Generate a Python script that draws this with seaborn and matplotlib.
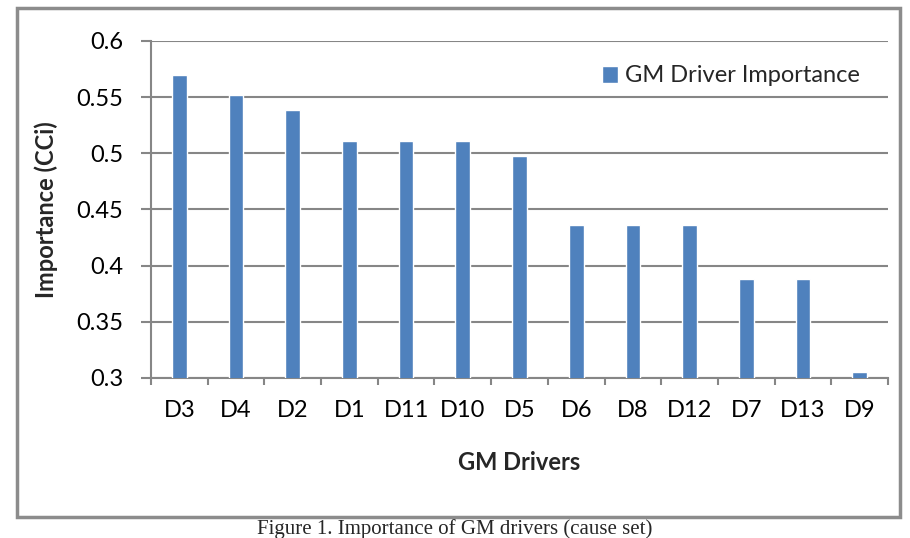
import matplotlib
matplotlib.use("Agg")
import matplotlib.pyplot as plt
import seaborn as sns
import pandas as pd
import numpy as np
from matplotlib.patches import Rectangle

drivers = ["D3", "D4", "D2", "D1", "D11", "D10", "D5", "D6", "D8", "D12", "D7", "D13", "D9"]
importance = [0.570, 0.552, 0.539, 0.511, 0.511, 0.511, 0.498, 0.436, 0.436, 0.436, 0.388, 0.388, 0.305]
yticks = [0.3, 0.35, 0.4, 0.45, 0.5, 0.55, 0.6]
ytick_labels = ["0.3", "0.35", "0.4", "0.45", "0.5", "0.55", "0.6"]

sns.set_theme(style="white")
plt.rcParams["font.family"] = ["Lato", "DejaVu Sans"]

df = pd.DataFrame({"Driver": drivers, "Importance": importance})

W, H = 910, 538
fig = plt.figure(figsize=(W / 100, H / 100), dpi=100)
ax = fig.add_axes([151 / W, 1 - 378 / H, (888 - 151) / W, (378 - 41) / H])

grid_c = "#868686"
bar_c = "#4F81BD"

sns.barplot(data=df, x="Driver", y="Importance", color=bar_c, width=0.26,
            saturation=1, ax=ax, label="GM Driver Importance", zorder=3)

ax.set_ylim(0.3, 0.6)
ax.set_xlim(-0.5, len(drivers) - 0.5)
ax.set_yticks(yticks)
ax.set_yticklabels(ytick_labels, fontsize=17)
ax.set_xticks(range(len(drivers)))
ax.set_xticklabels(drivers, fontsize=17)
ax.set_xticks(np.arange(-0.5, len(drivers), 1.0), minor=True)
ax.tick_params(axis="x", which="major", bottom=True, length=0, pad=16, colors="black")
ax.tick_params(axis="x", which="minor", bottom=True, length=5, width=1.5, color=grid_c, direction="out")
ax.tick_params(axis="y", which="major", left=True, length=7, width=1.5, color=grid_c,
               direction="out", pad=13, labelcolor="black")
ax.yaxis.grid(True, color=grid_c, linewidth=1.5, zorder=0)
ax.set_axisbelow(True)
for s in ["top", "right"]:
    ax.spines[s].set_visible(False)
for s in ["left", "bottom"]:
    ax.spines[s].set_color(grid_c)
    ax.spines[s].set_linewidth(1.5)

ax.set_xlabel("GM Drivers", fontsize=17, fontweight="bold")
ax.set_ylabel("Importance (CCi)", fontsize=17, fontweight="bold")
ax.xaxis.set_label_coords(0.5, (378 - 462) / 337)
ax.yaxis.set_label_coords((46 - 151) / 737, 0.5)
ax.xaxis.label.set_va("center")
ax.yaxis.label.set_va("center")

leg = ax.legend(loc="center right", bbox_to_anchor=((860 - 151) / 737, (378 - 76) / 337),
                frameon=False, fontsize=17, handlelength=0.7, handleheight=0.7,
                handletextpad=0.3, borderpad=0, borderaxespad=0)

# outer chart border
fig.patches.append(Rectangle((17 / W, 1 - 517 / H), (900 - 17) / W, (517 - 8) / H,
                             transform=fig.transFigure, fill=False,
                             edgecolor="#8c8c8c", linewidth=2.5))

fig.text(0.5, 1 - 534 / H, "Figure 1. Importance of GM drivers (cause set)",
         ha="center", va="baseline", fontsize=15, family=["Liberation Serif"])

fig.savefig("out.png", dpi=100)
